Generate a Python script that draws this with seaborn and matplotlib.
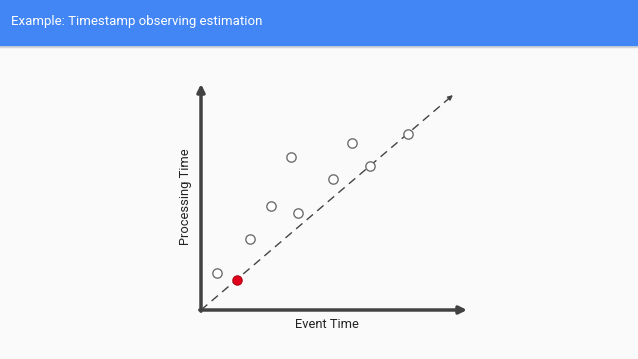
import pandas as pd
import matplotlib.pyplot as plt
import matplotlib.patches as patches
import seaborn as sns

# colours
BLUE = '#4285F4'
BG = '#FAFAFA'
AXIS = '#424242'
MARK = '#6F6F6F'
RED = '#E0001B'

# data (event time, processing time), arbitrary units
event_time = [16, 49, 70, 90, 97, 132, 151, 169, 207]
processing_time = [37, 71, 104, 153, 97, 131, 167, 144, 176]
watermark_event = [36]
watermark_processing = [30]
ideal_x = [0, 252]
ideal_y = [0, 215]

sns.set_style('white')
plt.rcParams['font.family'] = ['Roboto', 'DejaVu Sans']

W, H = 638, 359
fig = plt.figure(figsize=(W / 100, H / 100), dpi=100)
fig.patch.set_facecolor(BG)

# header band
fig.patches.append(patches.Rectangle((0, 1 - 47 / H), 1, 2 / H, transform=fig.transFigure,
                                     color='#D6D6D6', zorder=0))
fig.patches.append(patches.Rectangle((0, 1 - 45 / H), 1, 45 / H, transform=fig.transFigure,
                                     color=BLUE, zorder=1))
fig.text(11 / W, 1 - 22 / H, 'Example: Timestamp observing estimation', color='white',
         fontsize=9.5, va='center', ha='left')

# axes: one data unit = one pixel, origin at (201, 310)
ax = fig.add_axes([201 / W, (H - 310) / H, 270 / W, 228 / H])
ax.set_xlim(0, 270)
ax.set_ylim(0, 228)
ax.set_facecolor('none')
for s in ax.spines.values():
    s.set_visible(False)
ax.set_xticks([])
ax.set_yticks([])

sns.lineplot(x=ideal_x, y=ideal_y, ax=ax, color='#444444', linewidth=1, linestyle=(0, (6, 4)))
ax.annotate('', xy=(ideal_x[1] + 2, ideal_y[1] + 1.7), xytext=(ideal_x[1] - 4, ideal_y[1] - 3.4),
            arrowprops=dict(arrowstyle='-|>', color='#444444', lw=1, mutation_scale=7))

# axis arrows
ax.annotate('', xy=(266, 0), xytext=(-1.2, 0),
            arrowprops=dict(arrowstyle='-|>', color=AXIS, lw=2.5, mutation_scale=11,
                            shrinkA=0, shrinkB=0), annotation_clip=False)
ax.annotate('', xy=(0, 226), xytext=(0, -1.2),
            arrowprops=dict(arrowstyle='-|>', color=AXIS, lw=2.5, mutation_scale=11,
                            shrinkA=0, shrinkB=0), annotation_clip=False)

df = pd.DataFrame({'event': event_time, 'processing': processing_time})
sns.scatterplot(data=df, x='event', y='processing', ax=ax, s=45, facecolor='white',
                edgecolor=MARK, linewidth=1, zorder=5)
sns.scatterplot(x=watermark_event, y=watermark_processing, ax=ax, s=45, color=RED,
                edgecolor='#B00010', linewidth=0.8, zorder=6)
ax.set_xlabel('')
ax.set_ylabel('')

# axis titles
fig.text(326.5 / W, 1 - 325 / H, 'Event Time', fontsize=9.3, color='#222222',
         ha='center', va='center')
fig.text(185 / W, 1 - 196.5 / H, 'Processing Time', fontsize=9.3, color='#222222',
         ha='center', va='center', rotation=90)

fig.savefig('out.png', dpi=100, facecolor=BG)
